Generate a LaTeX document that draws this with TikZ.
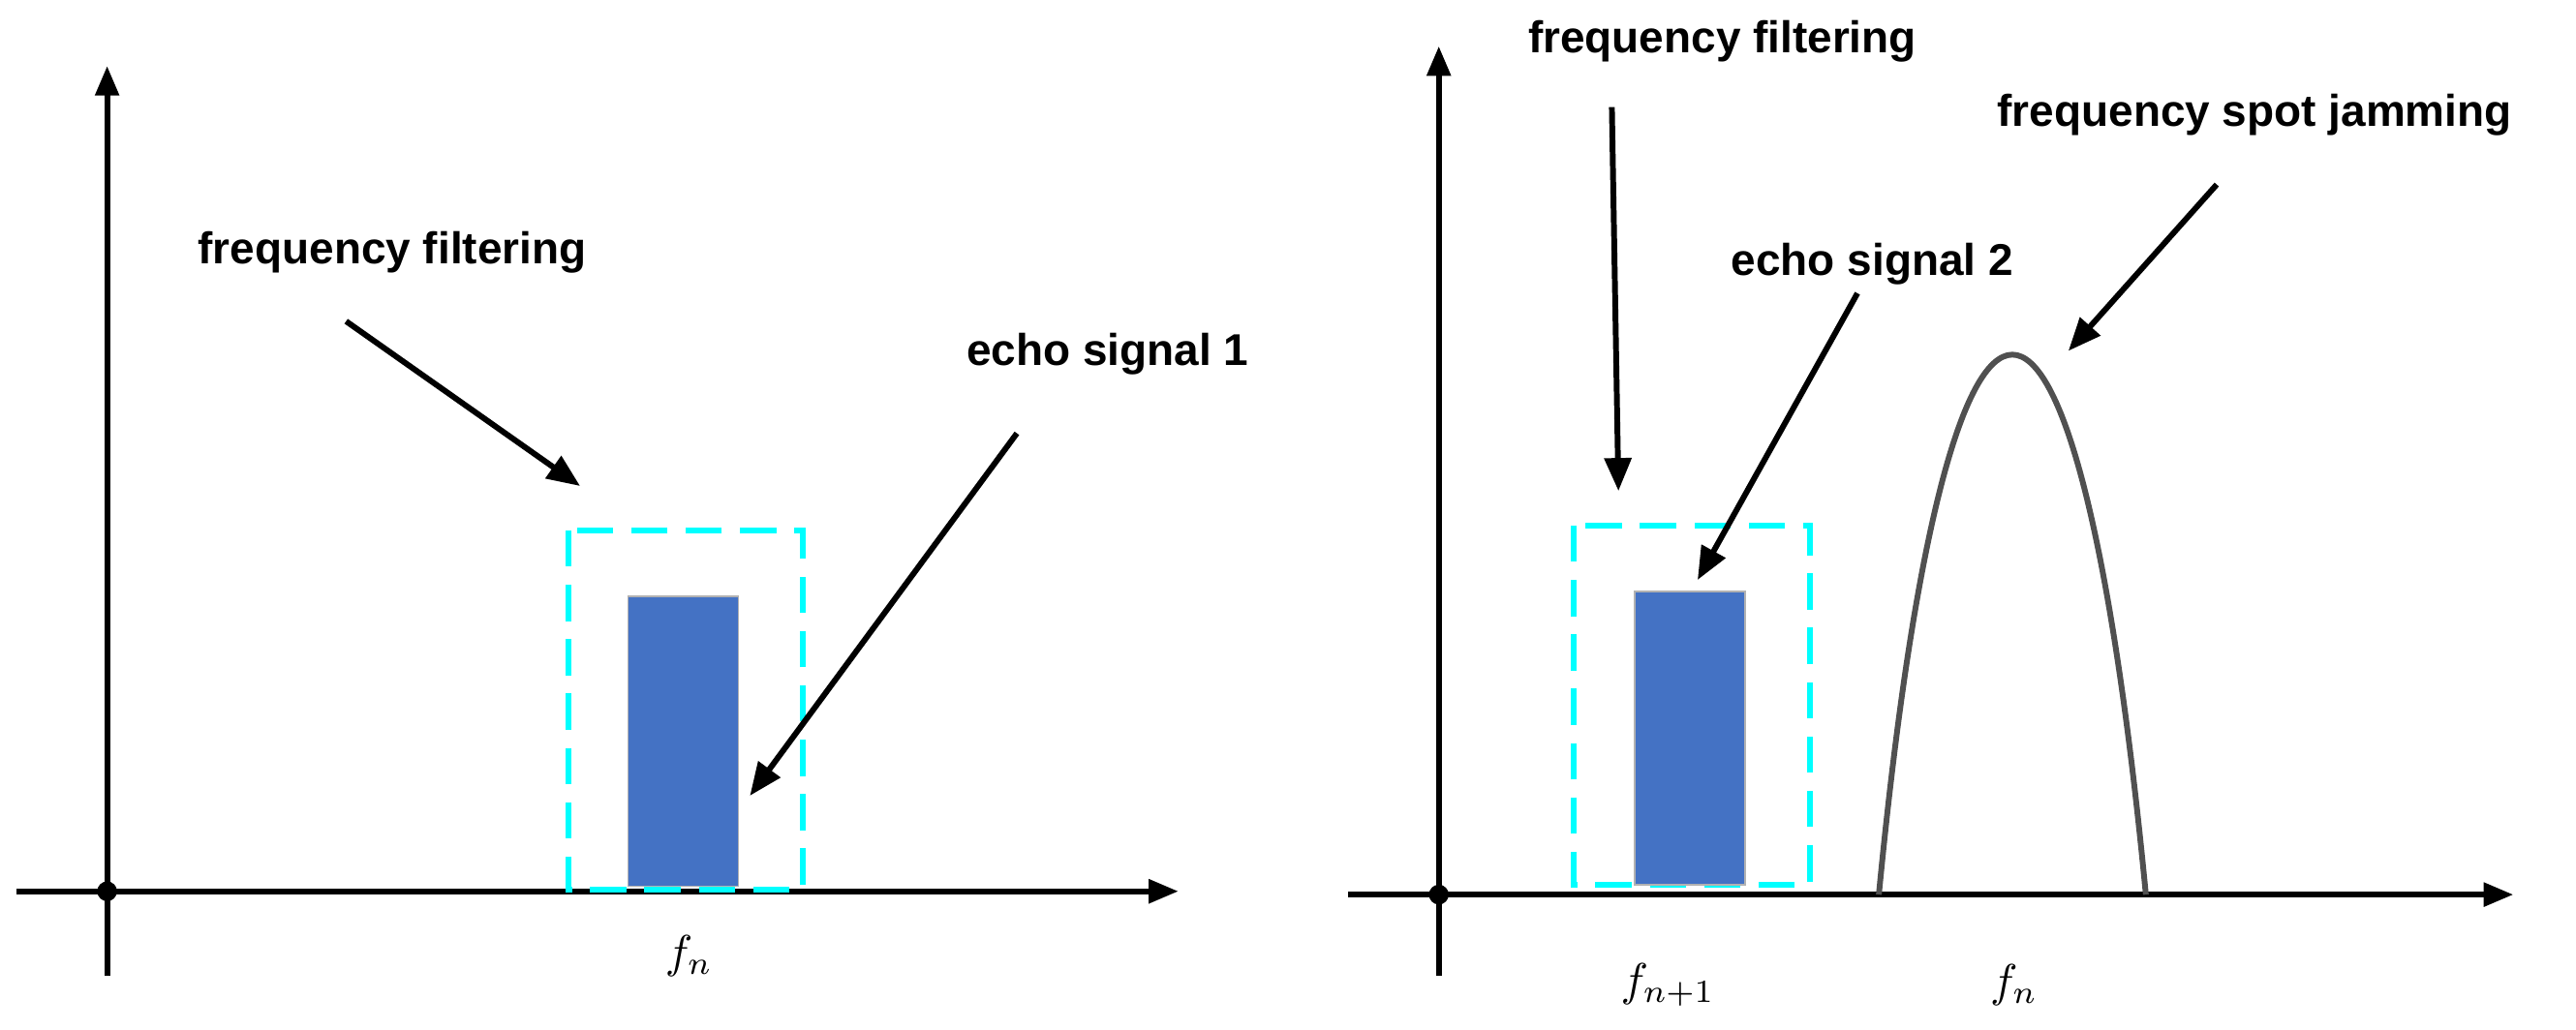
\documentclass[tikz,border=0pt]{standalone}
\usepackage{fontspec}
\setmainfont{Liberation Sans}
\usepackage{graphicx}
\usetikzlibrary{arrows.meta}
\newcommand{\biglbl}[1]{\scalebox{2.8}{$#1$}}
\begin{document}
\begin{tikzpicture}[x=1pt,y=-1pt,
  ax/.style={line width=3.5pt,-{Triangle[length=18pt,width=14pt]}},
  pt/.style={line width=3.5pt,-{Triangle[length=20pt,width=16pt]}},
  lbl/.style={font=\fontsize{27}{30}\selectfont\bfseries,inner sep=0pt},
  mlbl/.style={inner sep=0pt},
  filt/.style={draw={rgb,255:red,0;green,255;blue,255},line width=3.5pt,dash pattern=on 22pt off 11pt},
  sig/.style={fill={rgb,255:red,68;green,114;blue,196},draw=gray!60,line width=1pt}]
\useasboundingbox (0,0) rectangle (1563,625);
% left
\coordinate (o1) at (65,541);
\coordinate (ly0) at (65,592); \coordinate (ly1) at (65,40);
\coordinate (lx0) at (10,541); \coordinate (lx1) at (715,541);
\draw[ax] (ly0) -- (ly1);
\draw[ax] (lx0) -- (lx1);
\fill (o1) circle (6pt);
\draw[filt] (345,322) rectangle (487,540);
\draw[sig] (381,362) rectangle (448,538);
\node[lbl] (t1) at (238,153) {frequency filtering};
\coordinate (a1s) at (210,195); \coordinate (a1e) at (352,295);
\draw[pt] (a1s) -- (a1e);
\node[lbl] (t2) at (672,215) {echo signal 1};
\coordinate (a2s) at (617,263); \coordinate (a2e) at (455,483);
\draw[pt] (a2s) -- (a2e);
\node[mlbl] (fn1) at (418,580) {\biglbl{f_{n}}};
% right
\coordinate (o2) at (873,543);
\coordinate (ry0) at (873,592); \coordinate (ry1) at (873,28);
\coordinate (rx0) at (818,543); \coordinate (rx1) at (1525,543);
\draw[ax] (ry0) -- (ry1);
\draw[ax] (rx0) -- (rx1);
\fill (o2) circle (6pt);
\draw[filt] (955,319) rectangle (1098,537);
\draw[sig] (992,359) rectangle (1059,537);
\coordinate (c0) at (1140,543); \coordinate (c1) at (1302,543);
\draw[line width=3.5pt,draw={rgb,255:red,80;green,80;blue,80}] (c0) .. controls (1182,106) and (1260,106) .. (c1);
\node[lbl] (t3) at (1045,25) {frequency filtering};
\coordinate (a3s) at (978,65); \coordinate (a3e) at (982,298);
\draw[pt] (a3s) -- (a3e);
\node[lbl] (t4) at (1136,160) {echo signal 2};
\coordinate (a4s) at (1127,178); \coordinate (a4e) at (1030,352);
\draw[pt] (a4s) -- (a4e);
\node[lbl] (t5) at (1368,70) {frequency spot jamming};
\coordinate (a5s) at (1345,112); \coordinate (a5e) at (1255,213);
\draw[pt] (a5s) -- (a5e);
\node[mlbl] (fn2) at (1012,598) {\biglbl{f_{n+1}}};
\node[mlbl] (fn3) at (1222,598) {\biglbl{f_{n}}};
\end{tikzpicture}
\end{document}
